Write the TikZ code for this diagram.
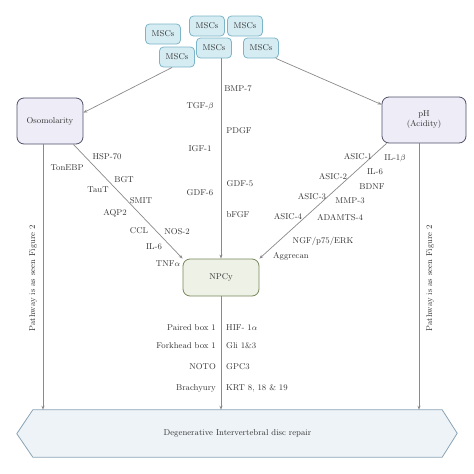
\documentclass[tikz,border=0pt]{standalone}
\usetikzlibrary{arrows}
\usetikzlibrary{arrows.meta}

\definecolor{linegray}{HTML}{8A8A8A}
\definecolor{txtgray}{HTML}{333333}
\definecolor{mscfill}{HTML}{D6ECF3}
\definecolor{mscline}{HTML}{7DB5C8}
\definecolor{factfill}{HTML}{EDECF7}
\definecolor{factline}{HTML}{505068}
\definecolor{npcfill}{HTML}{EEF1E6}
\definecolor{npcline}{HTML}{78875C}
\definecolor{repfill}{HTML}{EEF3F7}
\definecolor{repline}{HTML}{8AA3B5}

\begin{document}
\begin{tikzpicture}[x=1pt,y=-1pt,
    >={Stealth[length=4pt,width=3pt]},
    every node/.style={font=\fontsize{8.5}{10}\selectfont, text=txtgray},
    msc/.style={draw=mscline, fill=mscfill, line width=0.8pt, rounded corners=4pt,
        minimum width=35pt, minimum height=20pt, inner sep=1pt},
    factor/.style={draw=factline, fill=factfill, line width=0.8pt, rounded corners=7pt,
        align=center, inner sep=1pt},
    link/.style={draw=linegray, line width=0.7pt, ->},
    lab/.style={inner sep=1pt},
]
    \useasboundingbox (0,0) rectangle (474,474);

    % stem cells
    \foreach \x/\y [count=\i] in {163/34, 177/57, 207/26, 245/26, 214/48, 261/48}
        \node[msc] (msc\i) at (\x,\y) {MSCs};

    % factor boxes
    \node[factor, minimum width=66pt, minimum height=46pt] (oso) at (50,121) {Osomolarity};
    \node[factor, minimum width=84pt, minimum height=46pt] (ph) at (424,120) {pH\\(Acidity)};
    \node[factor, draw=npcline, fill=npcfill, minimum width=76pt, minimum height=37pt] (npc) at (221,277.5) {NPCy};

    % repair banner
    \node[lab, minimum width=409pt, minimum height=47pt] (rep) at (237.5,433.5) {};
    \draw[draw=repline, fill=repfill, line width=0.8pt]
        (rep.north west) -- (rep.north east) -- ++(15,23.5) -- (rep.south east)
        -- (rep.south west) -- ++(-16,-23.5) -- cycle;
    \node[lab] (reptxt) at (rep) {Degenerative Intervertebral disc repair};

    % arrows from the stem cells
    \draw[link] (msc2.-115) -- (oso.14);
    \draw[link] (npc.north |- msc5.south) -- (npc.north);
    \draw[link] (msc6.-35) -- (ph.160);

    % arrows to NPCy
    \draw[link] (oso.-45) -- (npc.north west);
    \draw[link] (ph.212) -- (npc.north east);

    % arrows to repair
    \draw[link] ([xshift=-7pt]oso.south) -- ([xshift=-7pt]oso.south |- rep.north);
    \draw[link] ([xshift=-5pt]ph.south) -- ([xshift=-5pt]ph.south |- rep.north);
    \draw[link] (npc.south) -- (npc.south |- rep.north);

    \node[lab, rotate=90] (pathL) at (33,278) {Pathway is as seen Figure 2};
    \node[lab, rotate=90] (pathR) at (430,278) {Pathway is as seen Figure 2};

    % osmolarity labels
    \foreach \t/\x/\y [count=\i] in {HSP-70/107/157, TonEBP/67/168, BGT/124/180,
        TauT/98/190, SMIT/141/201, AQP2/115/213, CCL/139/231, NOS-2/177/232,
        IL-6/154/247, TNF$\alpha$/168/264}
        \node[lab] (osl\i) at (\x,\y) {\t};

    % growth factor labels
    \foreach \t/\x/\y [count=\i] in {BMP-7/238/89, TGF-$\beta$/200/106, PDGF/239/131,
        IGF-1/200/149, GDF-5/240/184, GDF-6/200/193, bFGF/238/215}
        \node[lab] (gfl\i) at (\x,\y) {\t};

    % acidity labels
    \foreach \t/\x/\y [count=\i] in {ASIC-1/358/157, IL-1$\beta$/395/158, ASIC-2/333/177,
        IL-6/375/172, BDNF/372/187, ASIC-3/312/197, MMP-3/350/201, ASIC-4/288/217,
        ADAMTS-4/340/218, {NGF/p75/ERK}/323/241, Aggrecan/291/256}
        \node[lab] (phl\i) at (\x,\y) {\t};

    % NPCy markers
    \foreach \a/\b/\y [count=\i] in {Paired box 1/HIF- 1$\alpha$/328, Forkhead box 1/Gli 1\&3/346,
        NOTO/GPC3/367, Brachyury/{KRT 8, 18 \& 19}/388}
    {
        \node[lab, anchor=east] (mkl\i) at (217,\y) {\a};
        \node[lab, anchor=west] (mkr\i) at (225,\y) {\b};
    }
\end{tikzpicture}
\end{document}
